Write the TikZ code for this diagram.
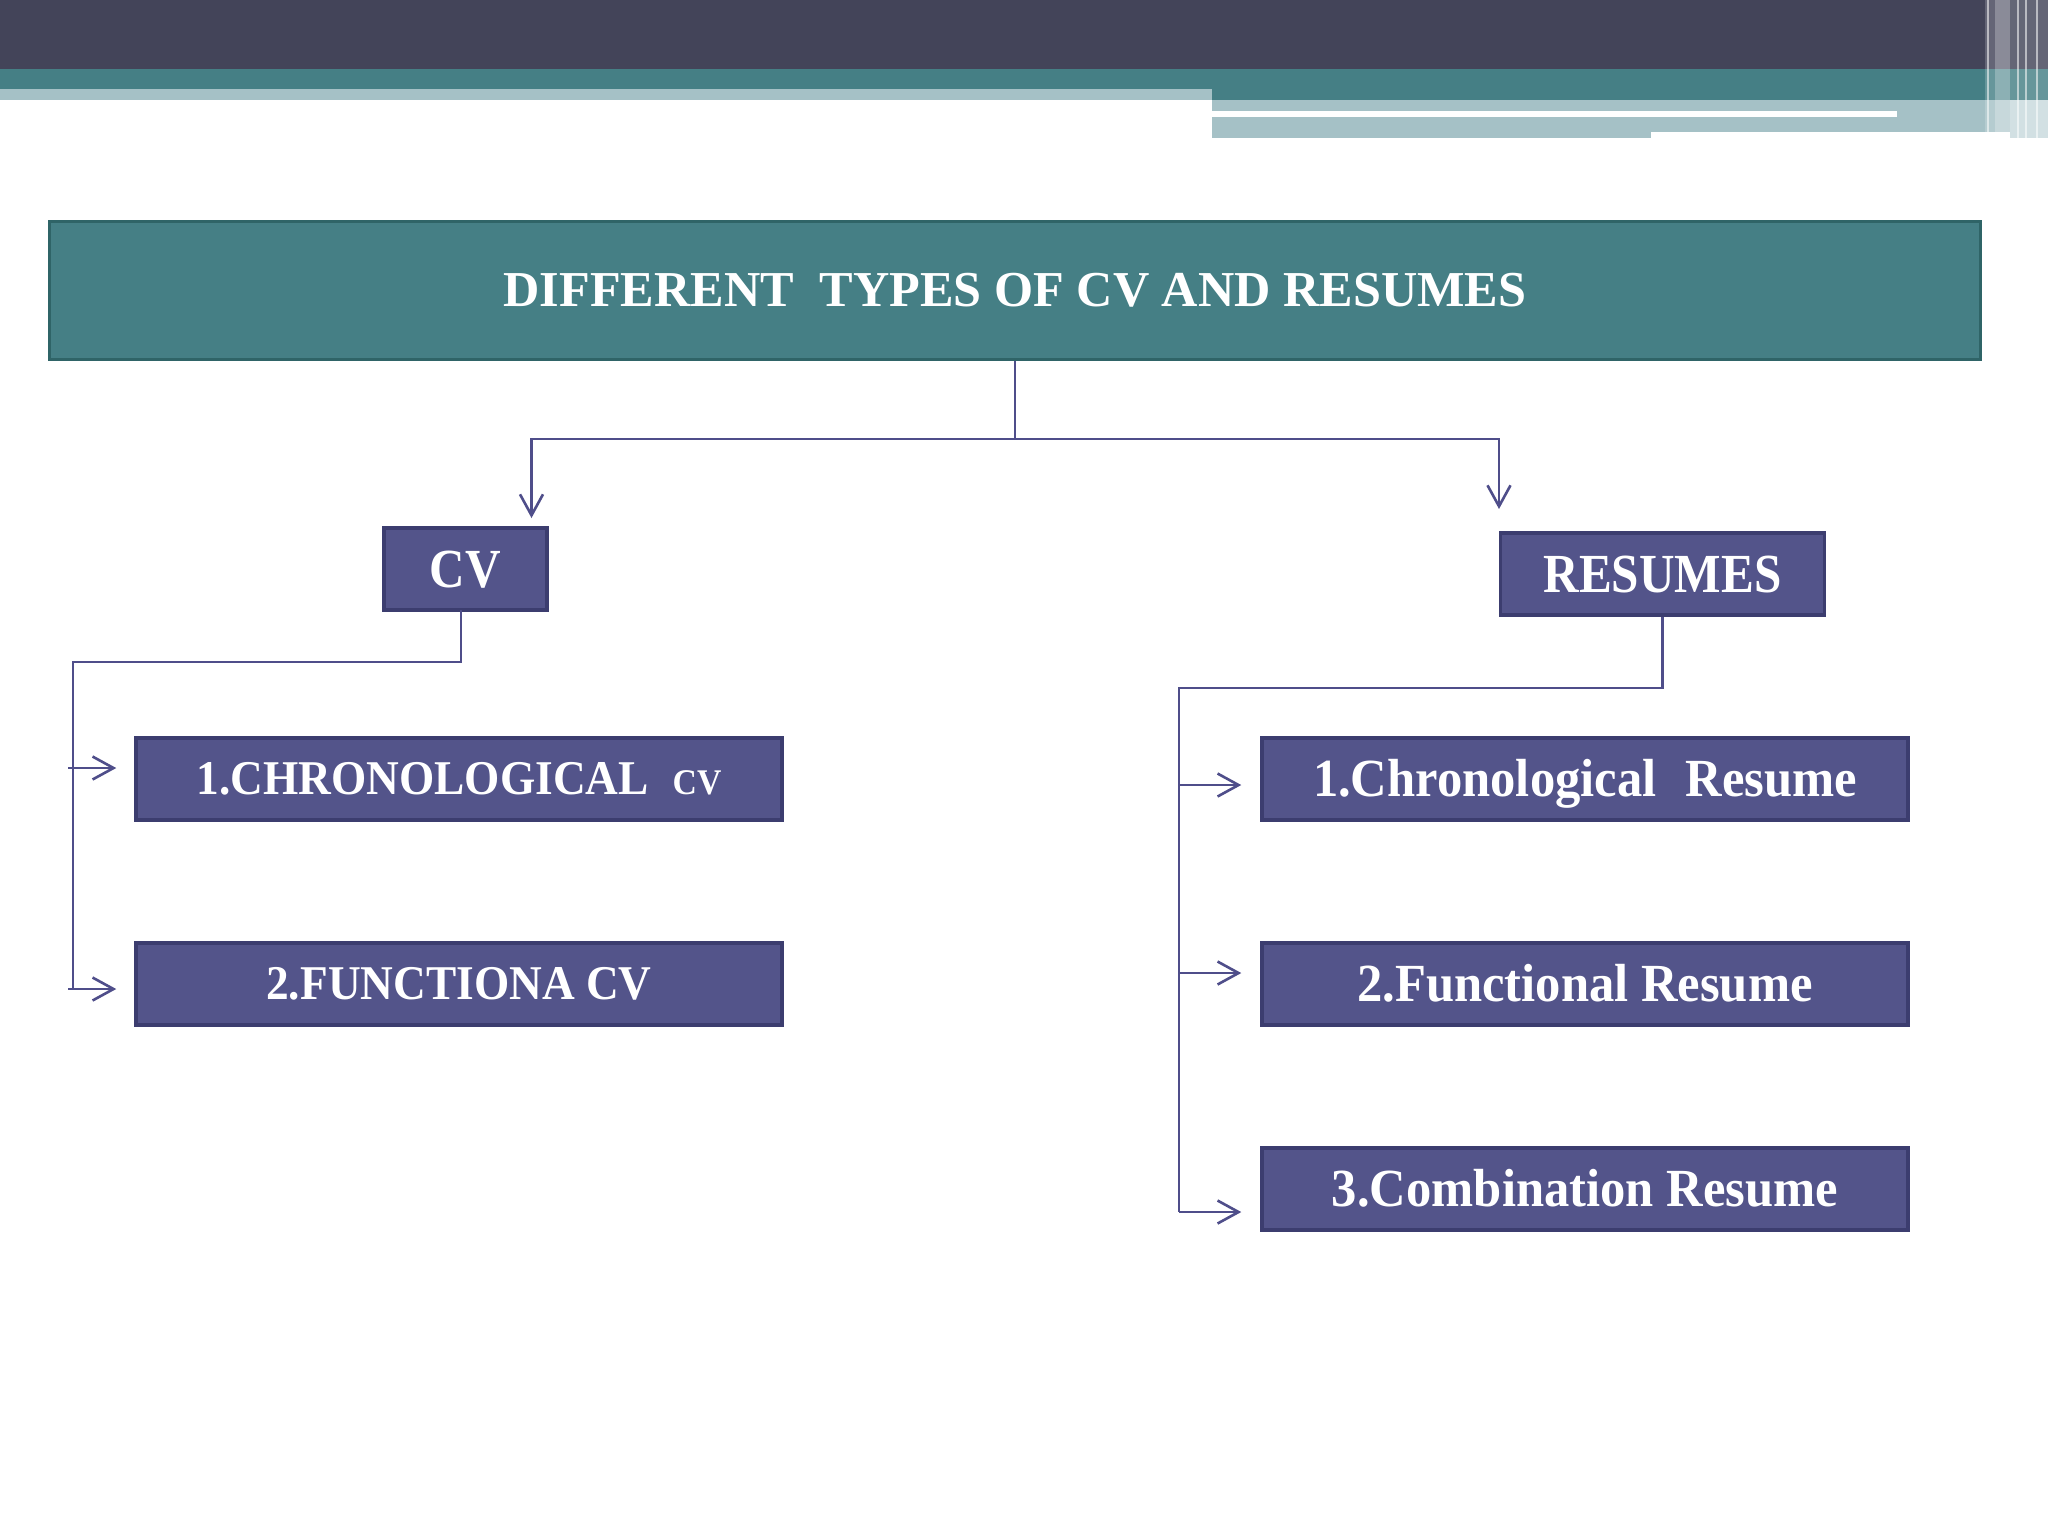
\documentclass[tikz,border=0pt]{standalone}
\usepackage{fontspec}
\usepackage{graphicx}
\setmainfont{Liberation Serif}
\usetikzlibrary{arrows.meta}
\definecolor{darkband}{HTML}{434459}
\definecolor{tealc}{HTML}{457F85}
\definecolor{tealborder}{HTML}{2F6467}
\definecolor{lightband}{HTML}{A5C1C6}
\definecolor{boxfill}{HTML}{53548A}
\definecolor{boxborder}{HTML}{3C3D6F}
\definecolor{linec}{HTML}{4F4E8A}
\newcommand\vstretch[2]{\scalebox{1}[#1]{#2}}
\begin{document}
\begin{tikzpicture}[x=0.1mm,y=-0.1mm,
  titlebox/.style={draw=tealborder, fill=tealc, line width=0.3mm, minimum width=193.1mm, minimum height=13.8mm, inner sep=0pt, text=white, text height=9.4pt, text depth=0pt, font=\fontsize{14.3}{17}\selectfont\bfseries},
  catbox/.style={draw=boxborder, fill=boxfill, line width=0.35mm, minimum height=8.2mm, inner sep=0pt, text=white, text height=10.3pt, text depth=0pt, font=\fontsize{14}{17}\selectfont\bfseries},
  leftitem/.style={catbox, minimum width=64.6mm, text height=9.05pt, font=\fontsize{12.9}{15}\selectfont\bfseries},
  rightitem/.style={catbox, minimum width=64.6mm, text height=10pt, font=\fontsize{14.4}{17}\selectfont\bfseries},
  conn/.style={draw=linec, line width=0.26mm},
  arr/.style={conn, -{Straight Barb[length=2.1mm,width=2.3mm]}}
]
\useasboundingbox (0,0) rectangle (2048,1536);
\fill[white] (0,0) rectangle (2048,1536);
% top decorative bands
\fill[darkband] (0,0) rectangle (2048,69);
\fill[tealc] (0,69) rectangle (2048,89);
\fill[tealc] (1212,89) rectangle (2048,100);
\fill[lightband] (0,89) rectangle (1212,100);
\fill[lightband] (1212,100) rectangle (2010,138);
\fill[white] (1212,111) rectangle (1897,117);
\fill[white] (1651,132) rectangle (2010,138);
\fill[lightband!60] (2010,100) rectangle (2048,138);
% right vertical stripes
\fill[white,opacity=0.18] (1985,0) rectangle (2048,138);
\fill[white,opacity=0.25] (1995,0) rectangle (2010,138);
\foreach \xx in {1987,2017,2025,2036}{
  \fill[white,opacity=0.55] (\xx,0) rectangle (\xx+2,138);
}

% nodes
\node[titlebox] (title) at (1015,290) {DIFFERENT\hspace{2.6mm}TYPES OF CV AND RESUMES};
\node[catbox, minimum width=16.3mm] (cv) at (465.5,569) {\vstretch{1.12}{CV}};
\node[catbox, minimum width=32.4mm] (res) at (1662.5,574) {\vstretch{1.12}{RESUMES}};

\node[leftitem] (lc1) at (459,779) {\vstretch{1.07}{1.CHRONOLOGICAL\hspace{2.4mm}{\fontsize{9.6}{11}\selectfont CV}}};
\node[leftitem] (lc2) at (459,984) {\vstretch{1.07}{2.FUNCTIONA CV}};

\node[rightitem] (rc1) at (1585,779) {\vstretch{1.06}{1.Chronological\hspace{2.9mm}Resume}};
\node[rightitem] (rc2) at (1585,984) {\vstretch{1.06}{2.Functional Resume}};
\node[rightitem] (rc3) at (1585,1189) {\vstretch{1.06}{3.Combination Resume}};

% top connectors
\coordinate (jc) at (1015,439);
\coordinate (cvin) at (531.5,518);
\coordinate (resin) at (1499,509);
\draw[conn] (title.south) -- (jc);
\draw[arr] (jc) -| (cvin);
\draw[arr] (jc) -| (resin);

% CV branch
\coordinate (cvout) at (461,610);
\coordinate (lt) at (73,662);
\coordinate (lb) at (73,989);
\draw[conn] (cvout) |- (lt) -- (lb);
\coordinate (la1) at (68,768);
\coordinate (la2) at (68,989);
\draw[arr, shorten >=1.8mm] (la1) -- (lc1.west |- la1);
\draw[arr, shorten >=1.8mm] (la2) -- (lc2.west |- la2);

% Resume branch
\coordinate (rt) at (1179,688);
\coordinate (rb) at (1179,1212);
\draw[conn] (res.south) |- (rt) -- (rb);
\coordinate (ra1) at (1179,785);
\coordinate (ra2) at (1179,973);
\draw[arr, shorten >=1.9mm] (ra1) -- (rc1.west |- ra1);
\draw[arr, shorten >=1.9mm] (ra2) -- (rc2.west |- ra2);
\draw[arr, shorten >=1.9mm] (rb) -- (rc3.west |- rb);
\end{tikzpicture}
\end{document}
